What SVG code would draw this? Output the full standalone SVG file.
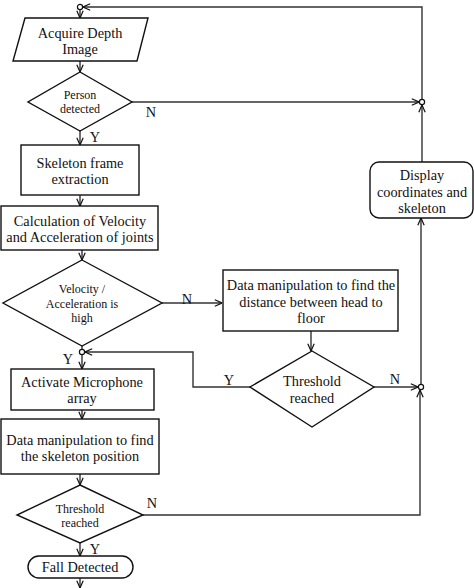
<svg xmlns="http://www.w3.org/2000/svg" width="474" height="588" viewBox="0 0 474 588">
<defs>
<style>
.n{fill:#fff;stroke:#111;stroke-width:1.4}
.c{fill:none;stroke:#333;stroke-width:1.4}
.t{fill:#111;text-anchor:middle;font-family:"Liberation Serif",serif}
.j{fill:#fff;stroke:#111;stroke-width:1.2}
</style>
<marker id="a" viewBox="0 0 10 10" refX="10" refY="5" markerWidth="8" markerHeight="8" markerUnits="userSpaceOnUse" orient="auto">
<path d="M1,1 L10,5 L1,9" fill="none" stroke="#111" stroke-width="1.5"/>
</marker>
</defs>
<rect width="474" height="588" fill="#fff"/>
<g id="connectors">
<path class="c" d="M422,162 L422,105" marker-end="url(#a)"/>
<path class="c" d="M422,99 L422,7 L83,7" marker-end="url(#a)"/>
<path class="c" d="M80,10 L80,18" marker-end="url(#a)"/>
<path class="c" d="M80,61 L80,72" marker-end="url(#a)"/>
<path class="c" d="M132,102 L419,102" marker-end="url(#a)"/>
<path class="c" d="M80,131 L80,145" marker-end="url(#a)"/>
<path class="c" d="M80,195 L80,206" marker-end="url(#a)"/>
<path class="c" d="M82,250 L82,260" marker-end="url(#a)"/>
<path class="c" d="M162,303 L222,303" marker-end="url(#a)"/>
<path class="c" d="M82,346 L82,349"/>
<path class="c" d="M82,355 L82,369" marker-end="url(#a)"/>
<path class="c" d="M250,387 L193,387 L193,352 L85,352" marker-end="url(#a)"/>
<path class="c" d="M311,331 L311,351" marker-end="url(#a)"/>
<path class="c" d="M374,387 L418,387" marker-end="url(#a)"/>
<path class="c" d="M421,384 L421,218" marker-end="url(#a)"/>
<path class="c" d="M143,515 L420,515 L420,390" marker-end="url(#a)"/>
<path class="c" d="M82,410 L82,419" marker-end="url(#a)"/>
<path class="c" d="M80,474 L80,485" marker-end="url(#a)"/>
<path class="c" d="M80,543 L80,556" marker-end="url(#a)"/>
<path class="c" d="M80,578 L80,588" marker-end="url(#a)"/>
<circle class="j" cx="80" cy="7" r="2.6"/>
<circle class="j" cx="422" cy="102" r="2.6"/>
<circle class="j" cx="82" cy="352" r="2.6"/>
<circle class="j" cx="421" cy="387" r="2.6"/>
<text class="t" font-family="Liberation Serif" font-size="14.3" x="151" y="117">N</text>
<text class="t" font-family="Liberation Serif" font-size="14.3" x="95" y="142">Y</text>
<text class="t" font-family="Liberation Serif" font-size="14.3" x="187" y="304">N</text>
<text class="t" font-family="Liberation Serif" font-size="14.3" x="68" y="364">Y</text>
<text class="t" font-family="Liberation Serif" font-size="14.3" x="229" y="385">Y</text>
<text class="t" font-family="Liberation Serif" font-size="14.3" x="395" y="384">N</text>
<text class="t" font-family="Liberation Serif" font-size="14.3" x="152" y="508">N</text>
<text class="t" font-family="Liberation Serif" font-size="14.3" x="95" y="554">Y</text>
</g>
<g id="acquire">
<polygon class="n" points="25,18 148,18 137,61 13,61"/>
<text class="t" font-family="Liberation Serif" font-size="14.3" x="80" y="38">Acquire Depth</text>
<text class="t" font-family="Liberation Serif" font-size="14.3" x="80" y="54">Image</text>
</g>
<g id="person">
<polygon class="n" points="80,72 132,102 80,131 28,102"/>
<text class="t" font-family="Liberation Serif" font-size="12" x="80" y="99">Person</text>
<text class="t" font-family="Liberation Serif" font-size="12" x="80" y="113">detected</text>
</g>
<g id="skeleton">
<rect class="n" x="21" y="145" width="118" height="50"/>
<text class="t" font-family="Liberation Serif" font-size="14.3" x="80" y="168">Skeleton frame</text>
<text class="t" font-family="Liberation Serif" font-size="14.3" x="80" y="184">extraction</text>
</g>
<g id="calc">
<rect class="n" x="1" y="206" width="157" height="44"/>
<text class="t" font-family="Liberation Serif" font-size="14.3" x="80" y="226">Calculation of  Velocity</text>
<text class="t" font-family="Liberation Serif" font-size="14.3" x="80" y="242">and Acceleration of joints</text>
</g>
<g id="velocity">
<polygon class="n" points="82,260 162,303 82,346 3,303"/>
<text class="t" font-family="Liberation Serif" font-size="12" x="82" y="293">Velocity /</text>
<text class="t" font-family="Liberation Serif" font-size="12" x="82" y="308">Acceleration is</text>
<text class="t" font-family="Liberation Serif" font-size="12" x="82" y="322">high</text>
</g>
<g id="headfloor">
<rect class="n" x="223" y="270" width="175" height="61"/>
<text class="t" font-family="Liberation Serif" font-size="14.3" x="311" y="290">Data manipulation to find the</text>
<text class="t" font-family="Liberation Serif" font-size="14.3" x="311" y="307">distance between head to</text>
<text class="t" font-family="Liberation Serif" font-size="14.3" x="311" y="323">floor</text>
</g>
<g id="threshold1">
<polygon class="n" points="312,351 374,387 312,427 250,387"/>
<text class="t" font-family="Liberation Serif" font-size="14.3" x="312" y="386">Threshold</text>
<text class="t" font-family="Liberation Serif" font-size="14.3" x="312" y="403">reached</text>
</g>
<g id="display">
<rect class="n" x="370" y="162" width="103" height="56" rx="9"/>
<text class="t" font-family="Liberation Serif" font-size="14.3" x="422" y="180">Display</text>
<text class="t" font-family="Liberation Serif" font-size="14.3" x="422" y="197">coordinates and</text>
<text class="t" font-family="Liberation Serif" font-size="14.3" x="422" y="213">skeleton</text>
</g>
<g id="microphone">
<rect class="n" x="11" y="369" width="143" height="41"/>
<text class="t" font-family="Liberation Serif" font-size="14.3" x="82" y="387">Activate Microphone</text>
<text class="t" font-family="Liberation Serif" font-size="14.3" x="82" y="403">array</text>
</g>
<g id="skelpos">
<rect class="n" x="1" y="419" width="158" height="55"/>
<text class="t" font-family="Liberation Serif" font-size="14.3" x="80" y="445">Data manipulation to find</text>
<text class="t" font-family="Liberation Serif" font-size="14.3" x="80" y="461">the skeleton position</text>
</g>
<g id="threshold2">
<polygon class="n" points="80,485 143,515 80,543 17,515"/>
<text class="t" font-family="Liberation Serif" font-size="12" x="80" y="513">Threshold</text>
<text class="t" font-family="Liberation Serif" font-size="12" x="80" y="527">reached</text>
</g>
<g id="fall">
<rect class="n" x="28" y="556" width="105" height="22" rx="11"/>
<text class="t" font-family="Liberation Serif" font-size="14.3" x="80" y="572">Fall Detected</text>
</g>
</svg>
